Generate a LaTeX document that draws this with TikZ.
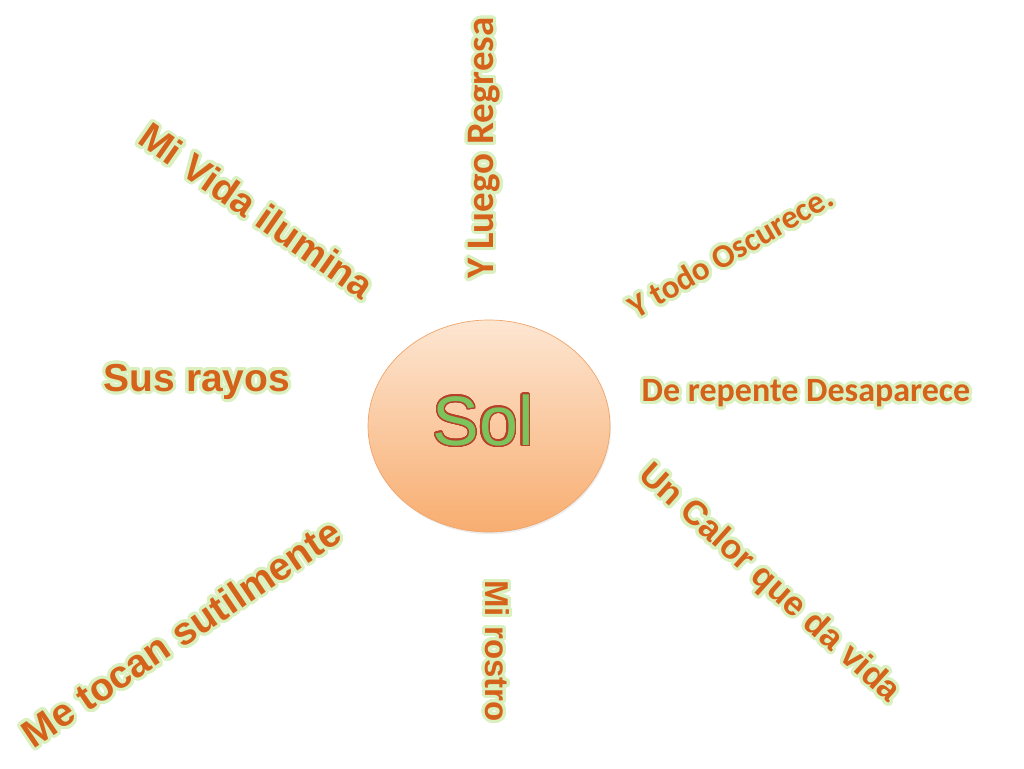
\documentclass[tikz,border=0pt]{standalone}
\usepackage{fontspec}
\setmainfont{Liberation Sans}
\newfontfamily\arialfont{Liberation Sans}
\newfontfamily\califont{Carlito}
\usepackage{contour}
\usetikzlibrary{shapes.geometric,shadows}
\definecolor{rayorange}{HTML}{D5621A}
\definecolor{glowgreen}{HTML}{DAF0BE}
\definecolor{solgreen}{HTML}{7BC35A}
\definecolor{solred}{HTML}{B8402A}
\definecolor{suntop}{HTML}{FDE6D2}
\definecolor{sunbottom}{HTML}{F8AD70}
\definecolor{sunedge}{HTML}{F1A56A}
\contournumber{32}
\newcommand\glowit[1]{\contourlength{3pt}\contour{glowgreen}{#1}}
\tikzset{
  ray/.style={inner sep=0pt, text=rayorange, anchor=center},
  arialray/.style={ray, font=\arialfont\bfseries\fontsize{#1}{#1}\selectfont},
  caliray/.style={ray, font=\califont\bfseries\fontsize{#1}{#1}\selectfont},
  sun/.style={ellipse, minimum width=242pt, minimum height=212pt, inner sep=0pt,
    top color=suntop, bottom color=sunbottom, draw=sunedge, line width=0.7pt,
    drop shadow={shadow xshift=1pt, shadow yshift=-2pt, opacity=0.15}},
  soltext/.style={inner sep=0pt, text=solgreen, font=\arialfont\fontsize{70}{70}\selectfont}
}
\begin{document}
\begin{tikzpicture}[x=1pt,y=-1pt]
\fill[white] (0,0) rectangle (1024,768);
\useasboundingbox (0,0) rectangle (1024,768);
\node[sun] (sun) at (489,426) {};
\node[soltext] (sol) at (483,421) {\contourlength{1.4pt}\contour{solred}{Sol}};
\node[arialray=38, rotate=-35] (vida) at (256,212) {\glowit{Mi Vida ilumina}};
\node[caliray=39, rotate=90] (luego) at (486,148) {\glowit{Y Luego Regresa}};
\node[caliray=33, rotate=30] (todo) at (731,253) {\glowit{Y todo Oscurece.}};
\node[arialray=39] (rayos) at (197,383) {\glowit{Sus rayos}};
\node[caliray=34] (repente) at (806,395) {\glowit{De repente Desaparece}};
\node[arialray=39, rotate=34] (tocan) at (182,634) {\glowit{Me tocan sutilmente}};
\node[arialray=33, rotate=-90] (rostro) at (496,651) {\glowit{Mi rostro}};
\node[arialray=34, rotate=-42] (calor) at (768,585) {\glowit{Un Calor que da vida}};
\end{tikzpicture}
\end{document}
